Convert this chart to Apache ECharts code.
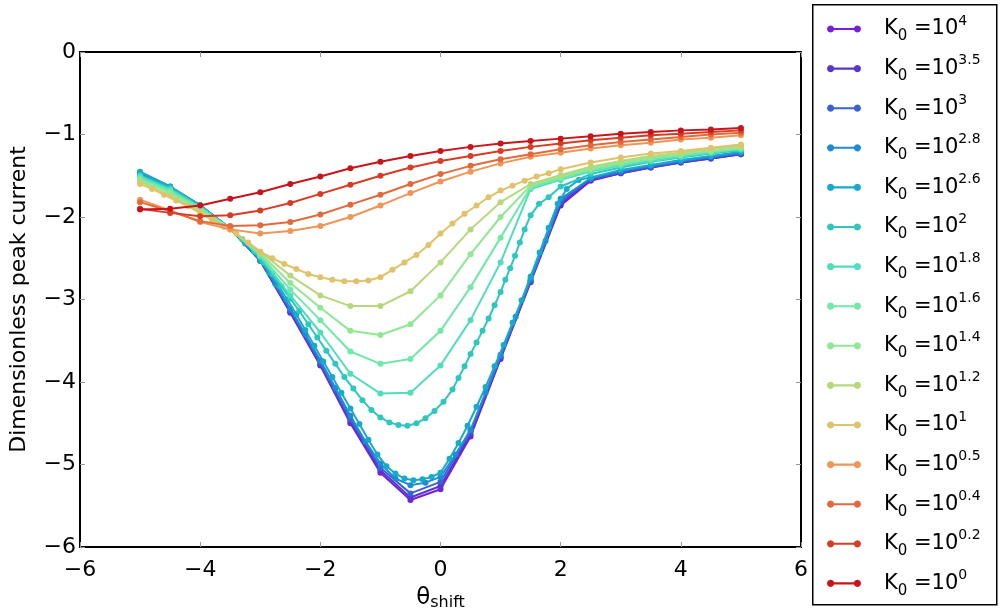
<!DOCTYPE html>
<html>
<head>
<meta charset="utf-8">
<script src="https://cdn.jsdelivr.net/npm/echarts@6/dist/echarts.min.js"></script>
<style>
  html, body { margin: 0; padding: 0; background: #fff; }
  #chart { width: 1005px; height: 616px; }
</style>
</head>
<body>
<div id="chart"></div>
<script>
// --- data ---
const X_HALF = [-5, -4.5, -4, -3.5, -3, -2.5, -2, -1.5, -1, -0.5, 0, 0.5, 1, 1.5, 2, 2.5, 3, 3.5, 4, 4.5, 5];
const X_QUARTER = [-5, -4.5, -4, -3.5, -3, -2.75, -2.5, -2.25, -2, -1.75, -1.5, -1.25, -1, -0.75, -0.5, -0.25, 0,
    0.25, 0.5, 0.75, 1, 1.25, 1.5, 1.75, 2, 2.5, 3, 3.5, 4, 4.5, 5];
const X_FIFTH = [-5, -4.8, -4.6, -4.4, -4.2, -4, -3.8, -3.6, -3.4, -3.2, -3, -2.8, -2.6, -2.4, -2.2, -2, -1.8, -1.6,
    -1.4, -1.2, -1, -0.8, -0.6, -0.4, -0.2, 0, 0.2, 0.4, 0.6, 0.8, 1, 1.2, 1.4, 1.6, 1.8, 2, 2.5, 3, 3.5, 4, 4.5, 5];
const X_K2 = [-5, -4.5, -4, -3.5, -3.3, -3.1, -2.95, -2.8, -2.65, -2.5, -2.35, -2.2, -2.05, -1.9, -1.75, -1.6, -1.45,
    -1.3, -1.15, -1, -0.85, -0.7, -0.55, -0.4, -0.25, -0.1, 0.05, 0.2, 0.3, 0.4, 0.5, 0.6, 0.7, 0.8, 0.9, 1, 1.08,
    1.16, 1.24, 1.32, 1.4, 1.5, 1.64, 1.8, 2, 2.5, 3, 3.5, 4, 4.5, 5];
const X_K26 = [-5, -4.5, -4, -3.5, -3.25, -3, -2.85, -2.7, -2.55, -2.4, -2.25, -2.1, -1.95, -1.8, -1.65, -1.5, -1.35,
    -1.2, -1.05, -0.9, -0.75, -0.6, -0.45, -0.3, -0.15, 0, 0.15, 0.3, 0.45, 0.6, 0.75, 0.9, 1.05, 1.2, 1.35, 1.5,
    1.65, 1.8, 1.95, 2.1, 2.3, 2.5, 3, 3.5, 4, 4.5, 5];

const Y_K4 = [-1.48, -1.64, -1.86, -2.14, -2.53, -3.16, -3.80, -4.50, -5.10, -5.43, -5.30, -4.66, -3.72, -2.79, -1.86, -1.56, -1.47, -1.40, -1.34, -1.29, -1.24];
const Y_K35 = [-1.48, -1.64, -1.86, -2.14, -2.53, -3.15, -3.79, -4.48, -5.07, -5.40, -5.26, -4.63, -3.70, -2.78, -1.84, -1.55, -1.47, -1.40, -1.34, -1.29, -1.24];
const Y_K3 = [-1.47, -1.64, -1.86, -2.14, -2.52, -3.13, -3.77, -4.45, -5.04, -5.35, -5.21, -4.60, -3.69, -2.77, -1.81, -1.54, -1.46, -1.39, -1.33, -1.28, -1.23];
const Y_K28 = [-1.46, -1.63, -1.86, -2.14, -2.52, -2.81, -3.11, -3.42, -3.74, -4.07, -4.41, -4.72, -4.99, -5.17, -5.25, -5.22, -5.15,
    -4.88, -4.58, -4.13, -3.67, -3.21, -2.75, -2.29, -1.78, -1.53, -1.44, -1.38, -1.32, -1.27, -1.22];
const Y_K26 = [-1.45, -1.63, -1.86, -2.14, -2.32, -2.52, -2.67, -2.83, -3.00, -3.18, -3.37, -3.56, -3.75, -3.94, -4.13, -4.32, -4.51,
    -4.70, -4.88, -5.02, -5.11, -5.17, -5.19, -5.18, -5.15, -5.10, -4.93, -4.74, -4.53, -4.30, -4.06, -3.81, -3.55, -3.28, -3.01, -2.72,
    -2.43, -2.13, -1.84, -1.66, -1.55, -1.52, -1.43, -1.37, -1.31, -1.26, -1.21];
const Y_K2 = [-1.49, -1.65, -1.87, -2.14, -2.27, -2.42, -2.55, -2.69, -2.84, -2.99, -3.14, -3.30, -3.46, -3.62, -3.78, -3.94, -4.08,
    -4.22, -4.34, -4.43, -4.49, -4.52, -4.53, -4.50, -4.44, -4.35, -4.24, -4.09, -3.95, -3.81, -3.66, -3.52, -3.38, -3.23, -3.07, -2.91,
    -2.76, -2.62, -2.47, -2.31, -2.15, -1.98, -1.84, -1.76, -1.63, -1.48, -1.40, -1.33, -1.28, -1.23, -1.19];
const Y_K18 = [-1.51, -1.67, -1.88, -2.14, -2.48, -2.95, -3.40, -3.90, -4.14, -4.13, -3.80, -3.25, -2.55, -1.66, -1.55, -1.45, -1.38, -1.32, -1.27, -1.22, -1.18];
const Y_K16 = [-1.53, -1.69, -1.89, -2.14, -2.46, -2.88, -3.25, -3.63, -3.78, -3.72, -3.38, -2.85, -2.25, -1.64, -1.53, -1.43, -1.36, -1.30, -1.25, -1.21, -1.17];
const Y_K14 = [-1.55, -1.71, -1.91, -2.14, -2.44, -2.80, -3.10, -3.38, -3.43, -3.30, -2.95, -2.45, -2.00, -1.62, -1.51, -1.41, -1.34, -1.28, -1.24, -1.20, -1.16];
const Y_K12 = [-1.57, -1.74, -1.93, -2.15, -2.42, -2.71, -2.95, -3.08, -3.08, -2.90, -2.55, -2.15, -1.82, -1.60, -1.49, -1.39, -1.32, -1.26, -1.22, -1.18, -1.14];
const Y_K1 = [-1.60, -1.66, -1.73, -1.80, -1.87, -1.95, -2.04, -2.12, -2.20, -2.31, -2.42, -2.50, -2.57, -2.63, -2.69, -2.73, -2.76, -2.78,
    -2.78, -2.77, -2.73, -2.64, -2.55, -2.46, -2.34, -2.20, -2.08, -1.96, -1.86, -1.76, -1.68, -1.62, -1.56, -1.51, -1.47, -1.42,
    -1.34, -1.28, -1.23, -1.20, -1.16, -1.12];
const Y_K05 = [-1.79, -1.92, -2.06, -2.15, -2.20, -2.17, -2.11, -2.00, -1.86, -1.71, -1.57, -1.45, -1.35, -1.27, -1.22, -1.17, -1.13, -1.10, -1.06, -1.04, -1.01];
const Y_K04 = [-1.82, -1.93, -2.05, -2.11, -2.10, -2.06, -1.97, -1.85, -1.73, -1.60, -1.48, -1.38, -1.30, -1.24, -1.18, -1.13, -1.09, -1.06, -1.03, -1.00, -0.98];
const Y_K02 = [-1.90, -1.95, -1.99, -1.98, -1.92, -1.83, -1.72, -1.61, -1.50, -1.40, -1.32, -1.26, -1.20, -1.15, -1.11, -1.07, -1.04, -1.01, -0.99, -0.97, -0.95];
const Y_K0 = [-1.91, -1.90, -1.86, -1.78, -1.70, -1.60, -1.51, -1.41, -1.33, -1.26, -1.20, -1.15, -1.11, -1.08, -1.05, -1.02, -0.99, -0.97, -0.95, -0.94, -0.92];

// legend exponents, in drawing order
const EXPONENTS = ['4', '3.5', '3', '2.8', '2.6', '2', '1.8', '1.6', '1.4', '1.2', '1', '0.5', '0.4', '0.2', '0'];
const SERIES_X = [X_HALF, X_HALF, X_HALF, X_QUARTER, X_K26, X_K2, X_HALF, X_HALF, X_HALF, X_HALF, X_FIFTH, X_HALF, X_HALF, X_HALF, X_HALF];
const SERIES_Y = [Y_K4, Y_K35, Y_K3, Y_K28, Y_K26, Y_K2, Y_K18, Y_K16, Y_K14, Y_K12, Y_K1, Y_K05, Y_K04, Y_K02, Y_K0];
const COLORS = ['#7a1fd6', '#5636cf', '#3a62d6', '#1f8ad6', '#16aacb', '#2ec7c0', '#4fdfb8', '#6fe8a8',
    '#8fe894', '#b6d87c', '#dfc26a', '#ef9556', '#e3693c', '#d83c22', '#c8141a'];

const X_TICKS_MIN = -6, X_TICKS_MAX = 6, X_STEP = 2;
const Y_TICKS_MIN = -6, Y_TICKS_MAX = 0, Y_STEP = 1;

const FONT = 'DejaVu Sans';
const minus = v => String(v).replace('-', '\u2212');

const series = EXPONENTS.map((e, i) => ({
    name: 'K0 =10^' + e,
    type: 'line',
    data: SERIES_X[i].map((x, j) => [x, SERIES_Y[i][j]]),
    symbol: 'circle',
    symbolSize: 6,
    showSymbol: true,
    lineStyle: { width: 2, color: COLORS[i] },
    itemStyle: { color: COLORS[i], borderWidth: 0 },
    emphasis: { disabled: true },
    z: 2 + i
}));

// line with a filled dot at each end, like matplotlib's legend handles (dots as 12-gons)
const LEGEND_ICON = 'path://' +
    'M7.5,4L7.03,5.75L5.75,7.03L4,7.5L2.25,7.03L0.97,5.75L0.5,4L0.97,2.25L2.25,0.97L4,0.5L5.75,0.97L7.03,2.25Z' +
    'M33.5,4L33.03,5.75L31.75,7.03L30,7.5L28.25,7.03L26.97,5.75L26.5,4L26.97,2.25L28.25,0.97L30,0.5L31.75,0.97L33.03,2.25Z' +
    'M4,3L30,3L30,5L4,5Z';

const chart = echarts.init(document.getElementById('chart'), null, { renderer: 'canvas' });
chart.setOption({
    animation: false,
    backgroundColor: '#fff',
    grid: { left: 69, top: 52, right: 204, bottom: 59, show: true, borderColor: '#000', borderWidth: 2, backgroundColor: 'transparent' },
    xAxis: [{
        type: 'value', min: X_TICKS_MIN, max: X_TICKS_MAX, interval: X_STEP,
        name: '{t|θ}{s|shift}', nameLocation: 'middle', nameGap: 40,
        nameTextStyle: {
            rich: {
                t: { fontFamily: FONT, fontSize: 23, color: '#000', verticalAlign: 'top', lineHeight: 24 },
                s: { fontFamily: FONT, fontSize: 16, color: '#000', verticalAlign: 'bottom', lineHeight: 16 }
            }
        },
        axisLine: { show: true, onZero: false, lineStyle: { color: '#000', width: 2 } },
        axisTick: { inside: true, length: 5, lineStyle: { color: '#999', width: 1 } },
        axisLabel: { formatter: minus, fontFamily: FONT, fontSize: 22, color: '#000', margin: 12 },
        splitLine: { show: false }
    }, {
        type: 'value', position: 'top', min: X_TICKS_MIN, max: X_TICKS_MAX, interval: X_STEP,
        axisLine: { show: true, onZero: false, lineStyle: { color: '#000', width: 2 } },
        axisTick: { inside: true, length: 5, lineStyle: { color: '#999', width: 1 } },
        axisLabel: { show: false },
        splitLine: { show: false }
    }],
    yAxis: [{
        type: 'value', min: Y_TICKS_MIN, max: Y_TICKS_MAX, interval: Y_STEP,
        name: 'Dimensionless peak current', nameLocation: 'middle', nameGap: 50, nameRotate: 90,
        nameTextStyle: { fontFamily: FONT, fontSize: 22, color: '#000' },
        axisLine: { show: true, onZero: false, lineStyle: { color: '#000', width: 2 } },
        axisTick: { inside: true, length: 5, lineStyle: { color: '#999', width: 1 } },
        axisLabel: { formatter: minus, fontFamily: FONT, fontSize: 22, color: '#000', margin: 4 },
        splitLine: { show: false }
    }, {
        type: 'value', position: 'right', min: Y_TICKS_MIN, max: Y_TICKS_MAX, interval: Y_STEP,
        axisLine: { show: true, onZero: false, lineStyle: { color: '#000', width: 2 } },
        axisTick: { inside: true, length: 5, lineStyle: { color: '#999', width: 1 } },
        axisLabel: { show: false },
        splitLine: { show: false }
    }],
    legend: {
        orient: 'vertical',
        left: 827, top: 14,
        padding: 0,
        itemWidth: 34, itemHeight: 8, itemGap: 9.6,
        icon: LEGEND_ICON,
        itemStyle: { borderWidth: 0 },
        selectedMode: false,
        data: series.map(s => s.name),
        formatter: name => '{k0|K}{sub|0}{k| =10}{sup|' + name.split('^')[1] + '}',
        textStyle: {
            rich: {
                k0: { fontFamily: FONT, fontSize: 21, color: '#000', lineHeight: 30, padding: [0, 0, 0, 18] },
                k: { fontFamily: FONT, fontSize: 21, color: '#000', lineHeight: 30 },
                sub: { fontFamily: FONT, fontSize: 15, color: '#000', lineHeight: 15, verticalAlign: 'bottom' },
                sup: { fontFamily: FONT, fontSize: 14, color: '#000', lineHeight: 14, verticalAlign: 'top' }
            }
        }
    },
    graphic: [{
        type: 'rect', left: 812, top: 4, z: -1,
        shape: { width: 184, height: 600 },
        style: { fill: '#fff', stroke: '#000', lineWidth: 1.5 }
    }],
    series: series
});
</script>
</body>
</html>
